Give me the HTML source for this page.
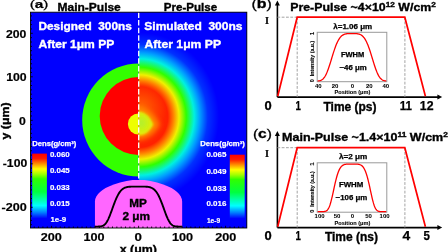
<!DOCTYPE html>
<html><head><meta charset="utf-8"><style>
html,body{margin:0;padding:0;background:#fff;width:448px;height:252px;overflow:hidden}
svg{display:block}
</style></head><body><svg width="448" height="252" viewBox="0 0 448 252" font-family="Liberation Sans, Arial, sans-serif" font-weight="bold"><rect x="30.5" y="12.2" width="216.3" height="215.8" fill="#0000ff"/><defs><clipPath id="cl"><rect x="30.5" y="12.2" width="108.19999999999999" height="215.8"/></clipPath><clipPath id="cr"><rect x="138.7" y="12.2" width="108.10000000000002" height="215.8"/></clipPath><radialGradient id="rg" gradientUnits="userSpaceOnUse" cx="139" cy="117" r="80" gradientTransform="translate(0,117) scale(1,1.056) translate(0,-117)"><stop offset="0" stop-color="#ff4000"/><stop offset="0.15" stop-color="#ff3000"/><stop offset="0.36" stop-color="#ff2000"/><stop offset="0.43" stop-color="#ff8000"/><stop offset="0.50" stop-color="#f0f000"/><stop offset="0.59" stop-color="#30ff00"/><stop offset="0.69" stop-color="#00f0e0"/><stop offset="0.76" stop-color="#00a0ff"/><stop offset="0.86" stop-color="#0030ff"/><stop offset="1" stop-color="#0000ff"/></radialGradient><radialGradient id="blob" gradientUnits="userSpaceOnUse" cx="141" cy="123" r="14"><stop offset="0" stop-color="#b0f030"/><stop offset="0.55" stop-color="#d0f010"/><stop offset="1" stop-color="#f4e800"/></radialGradient><radialGradient id="glow" gradientUnits="userSpaceOnUse" cx="141" cy="108" r="26"><stop offset="0" stop-color="#ff7000" stop-opacity="0.9"/><stop offset="1" stop-color="#ff5000" stop-opacity="0"/></radialGradient><filter id="bl1" x="-50%" y="-50%" width="200%" height="200%"><feGaussianBlur stdDeviation="0.8"/></filter><filter id="bl2" x="-50%" y="-50%" width="200%" height="200%"><feGaussianBlur stdDeviation="2.5"/></filter><linearGradient id="cb" x1="0" y1="0" x2="0" y2="1"><stop offset="0" stop-color="#ff0000"/><stop offset="0.07" stop-color="#ff1800"/><stop offset="0.14" stop-color="#ff8000"/><stop offset="0.225" stop-color="#ffff00"/><stop offset="0.30" stop-color="#a0ff00"/><stop offset="0.37" stop-color="#30ff00"/><stop offset="0.56" stop-color="#00ff40"/><stop offset="0.76" stop-color="#00ffff"/><stop offset="0.86" stop-color="#0080ff"/><stop offset="0.95" stop-color="#0000ff"/><stop offset="1" stop-color="#0000ff"/></linearGradient></defs><g clip-path="url(#cl)"><circle cx="138.7" cy="120" r="56.5" fill="#33ff00"/><circle cx="138.7" cy="116" r="39" fill="#ff0000"/><circle cx="138.4" cy="124" r="10.5" fill="#eeff00"/></g><g clip-path="url(#cr)"><rect x="138.7" y="12.2" width="108.10000000000002" height="215.8" fill="url(#rg)"/><circle cx="141" cy="108" r="26" fill="url(#glow)"/><path d="M136,107 C148,107 155,115 160,124.5 C155,134 148,140 136,140 Z" fill="#ff9000" opacity="0.85" filter="url(#bl2)"/><path d="M138,111.5 C146,111.5 150,117 153.5,124.5 C150,131 146,135.5 138,135.5 Z" fill="url(#blob)" filter="url(#bl1)"/></g><path d="M94.95,228.0 L94.95,201.50 L95.25,199.00 L96.35,196.60 L98.05,194.00 L100.05,191.90 L102.55,189.90 L105.55,188.00 L110.05,185.90 L114.55,184.20 L120.05,182.60 L126.55,181.00 L132.55,180.10 L138.55,179.90 L144.55,180.10 L150.55,181.00 L157.05,182.60 L162.55,184.20 L167.05,185.90 L171.55,188.00 L174.55,189.90 L177.05,191.90 L179.05,194.00 L180.75,196.60 L181.85,199.00 L182.15,201.50 L182.15,228.0 Z" fill="#ff66ff"/><path d="M94.90,226.60 L95.40,226.60 L95.90,226.60 L96.40,226.59 L96.90,226.59 L97.40,226.59 L97.90,226.58 L98.40,226.56 L98.90,226.54 L99.40,226.52 L99.90,226.48 L100.40,226.42 L100.90,226.35 L101.40,226.25 L101.90,226.11 L102.40,225.95 L102.90,225.74 L103.40,225.47 L103.90,225.16 L104.40,224.77 L104.90,224.32 L105.40,223.78 L105.90,223.17 L106.40,222.48 L106.90,221.69 L107.40,220.83 L107.90,219.87 L108.40,218.84 L108.90,217.73 L109.40,216.56 L109.90,215.32 L110.40,214.03 L110.90,212.70 L111.40,211.33 L111.90,209.95 L112.40,208.55 L112.90,207.16 L113.40,205.77 L113.90,204.41 L114.40,203.07 L114.90,201.78 L115.40,200.52 L115.90,199.32 L116.40,198.17 L116.90,197.08 L117.40,196.06 L117.90,195.09 L118.40,194.20 L118.90,193.36 L119.40,192.59 L119.90,191.89 L120.40,191.24 L120.90,190.65 L121.40,190.12 L121.90,189.65 L122.40,189.22 L122.90,188.84 L123.40,188.50 L123.90,188.21 L124.40,187.95 L124.90,187.72 L125.40,187.53 L125.90,187.36 L126.40,187.22 L126.90,187.10 L127.40,187.00 L127.90,186.91 L128.40,186.84 L128.90,186.79 L129.40,186.74 L129.90,186.71 L130.40,186.68 L130.90,186.65 L131.40,186.64 L131.90,186.63 L132.40,186.62 L132.90,186.61 L133.40,186.61 L133.90,186.60 L134.40,186.60 L134.90,186.60 L135.40,186.60 L135.90,186.60 L136.40,186.60 L136.90,186.60 L137.40,186.60 L137.90,186.60 L138.40,186.60 L138.90,186.60 L139.40,186.60 L139.90,186.60 L140.40,186.60 L140.90,186.60 L141.40,186.60 L141.90,186.60 L142.40,186.60 L142.90,186.61 L143.40,186.61 L143.90,186.62 L144.40,186.63 L144.90,186.64 L145.40,186.66 L145.90,186.68 L146.40,186.71 L146.90,186.75 L147.40,186.80 L147.90,186.86 L148.40,186.93 L148.90,187.01 L149.40,187.12 L149.90,187.24 L150.40,187.39 L150.90,187.56 L151.40,187.76 L151.90,188.00 L152.40,188.26 L152.90,188.57 L153.40,188.91 L153.90,189.30 L154.40,189.74 L154.90,190.22 L155.40,190.77 L155.90,191.36 L156.40,192.02 L156.90,192.74 L157.40,193.52 L157.90,194.37 L158.40,195.28 L158.90,196.26 L159.40,197.30 L159.90,198.40 L160.40,199.56 L160.90,200.77 L161.40,202.03 L161.90,203.34 L162.40,204.68 L162.90,206.05 L163.40,207.43 L163.90,208.83 L164.40,210.22 L164.90,211.61 L165.40,212.97 L165.90,214.29 L166.40,215.57 L166.90,216.80 L167.40,217.96 L167.90,219.06 L168.40,220.07 L168.90,221.01 L169.40,221.86 L169.90,222.62 L170.40,223.30 L170.90,223.90 L171.40,224.41 L171.90,224.85 L172.40,225.22 L172.90,225.53 L173.40,225.78 L173.90,225.98 L174.40,226.14 L174.90,226.27 L175.40,226.36 L175.90,226.43 L176.40,226.48 L176.90,226.52 L177.40,226.55 L177.90,226.57 L178.40,226.58 L178.90,226.59 L179.40,226.59 L179.90,226.60 L180.40,226.60 L180.90,226.60 L181.40,226.60 L181.90,226.60" fill="none" stroke="#000" stroke-width="1.9"/><line x1="138.7" y1="12.4" x2="138.7" y2="179" stroke="#fff" stroke-width="1.3" stroke-dasharray="5.5,2.15"/><rect x="32.2" y="153.6" width="14.7" height="68.4" fill="url(#cb)"/><rect x="229.8" y="154.7" width="14.9" height="67.3" fill="url(#cb)"/><rect x="30.5" y="12.2" width="216.3" height="215.8" fill="none" stroke="#000" stroke-width="0.9"/><path d="M30.5,15.90h1.5M34.20,228.0v-1.5M30.5,20.25h1.5M38.55,228.0v-1.5M30.5,24.60h1.5M42.90,228.0v-1.5M30.5,28.95h1.5M47.25,228.0v-1.5M30.5,33.30h2.2M51.60,228.0v-2.2M30.5,37.65h1.5M55.95,228.0v-1.5M30.5,42.00h1.5M60.30,228.0v-1.5M30.5,46.35h1.5M64.65,228.0v-1.5M30.5,50.70h1.5M69.00,228.0v-1.5M30.5,55.05h1.5M73.35,228.0v-1.5M30.5,59.40h1.5M77.70,228.0v-1.5M30.5,63.75h1.5M82.05,228.0v-1.5M30.5,68.10h1.5M86.40,228.0v-1.5M30.5,72.45h1.5M90.75,228.0v-1.5M30.5,76.80h2.2M95.10,228.0v-2.2M30.5,81.15h1.5M99.45,228.0v-1.5M30.5,85.50h1.5M103.80,228.0v-1.5M30.5,89.85h1.5M108.15,228.0v-1.5M30.5,94.20h1.5M112.50,228.0v-1.5M30.5,98.55h1.5M116.85,228.0v-1.5M30.5,102.90h1.5M121.20,228.0v-1.5M30.5,107.25h1.5M125.55,228.0v-1.5M30.5,111.60h1.5M129.90,228.0v-1.5M30.5,115.95h1.5M134.25,228.0v-1.5M30.5,120.30h2.2M138.60,228.0v-2.2M30.5,124.65h1.5M142.95,228.0v-1.5M30.5,129.00h1.5M147.30,228.0v-1.5M30.5,133.35h1.5M151.65,228.0v-1.5M30.5,137.70h1.5M156.00,228.0v-1.5M30.5,142.05h1.5M160.35,228.0v-1.5M30.5,146.40h1.5M164.70,228.0v-1.5M30.5,150.75h1.5M169.05,228.0v-1.5M30.5,155.10h1.5M173.40,228.0v-1.5M30.5,159.45h1.5M177.75,228.0v-1.5M30.5,163.80h2.2M182.10,228.0v-2.2M30.5,168.15h1.5M186.45,228.0v-1.5M30.5,172.50h1.5M190.80,228.0v-1.5M30.5,176.85h1.5M195.15,228.0v-1.5M30.5,181.20h1.5M199.50,228.0v-1.5M30.5,185.55h1.5M203.85,228.0v-1.5M30.5,189.90h1.5M208.20,228.0v-1.5M30.5,194.25h1.5M212.55,228.0v-1.5M30.5,198.60h1.5M216.90,228.0v-1.5M30.5,202.95h1.5M221.25,228.0v-1.5M30.5,207.30h2.2M225.60,228.0v-2.2M30.5,211.65h1.5M229.95,228.0v-1.5M30.5,216.00h1.5M234.30,228.0v-1.5M30.5,220.35h1.5M238.65,228.0v-1.5M30.5,224.70h1.5M243.00,228.0v-1.5" stroke="#000" stroke-width="0.9" fill="none"/><text x="38.50" y="29.6" font-size="10.5" fill="#fff" stroke="#fff" stroke-width="0.35" textLength="93.30" lengthAdjust="spacingAndGlyphs" >Designed&#160;&#160;300ns</text><text x="38.50" y="48.2" font-size="10.5" fill="#fff" stroke="#fff" stroke-width="0.35" textLength="75.80" lengthAdjust="spacingAndGlyphs" >After 1μm PP</text><text x="144.30" y="29.5" font-size="10.5" fill="#fff" stroke="#fff" stroke-width="0.35" textLength="98.20" lengthAdjust="spacingAndGlyphs" >Simulated&#160;&#160;300ns</text><text x="144.50" y="47.9" font-size="10.5" fill="#fff" stroke="#fff" stroke-width="0.35" textLength="76.60" lengthAdjust="spacingAndGlyphs" >After 1μm PP</text><text x="57.50" y="10.6" font-size="11.3" fill="#000" stroke="#000" stroke-width="0.35" textLength="63.30" lengthAdjust="spacingAndGlyphs" >Main-Pulse</text><text x="163.80" y="10.6" font-size="11.3" fill="#000" stroke="#000" stroke-width="0.35" textLength="53.40" lengthAdjust="spacingAndGlyphs" >Pre-Pulse</text><text x="29.70" y="7.8" font-size="11.5" fill="#000" stroke="#000" stroke-width="0.25" textLength="18.80" lengthAdjust="spacingAndGlyphs" ><tspan font-weight="normal">(</tspan>a<tspan font-weight="normal">)</tspan></text><text x="32.30" y="145.5" font-size="7" fill="#fff" stroke="#fff" stroke-width="0.25" textLength="44.00" lengthAdjust="spacingAndGlyphs" >Dens(g/cm³)</text><text x="49.90" y="156.60000000000002" font-size="7.2" fill="#fff" stroke="#fff" stroke-width="0.15" textLength="19.80" lengthAdjust="spacingAndGlyphs" >0.060</text><text x="49.90" y="173.0" font-size="7.2" fill="#fff" stroke="#fff" stroke-width="0.15" textLength="19.80" lengthAdjust="spacingAndGlyphs" >0.045</text><text x="49.90" y="190.20000000000002" font-size="7.2" fill="#fff" stroke="#fff" stroke-width="0.15" textLength="19.80" lengthAdjust="spacingAndGlyphs" >0.033</text><text x="49.90" y="205.70000000000002" font-size="7.2" fill="#fff" stroke="#fff" stroke-width="0.15" textLength="19.80" lengthAdjust="spacingAndGlyphs" >0.015</text><text x="50.40" y="221.5" font-size="7.2" fill="#fff" stroke="#fff" stroke-width="0.15" textLength="15.80" lengthAdjust="spacingAndGlyphs" >1e-9</text><text x="200.30" y="146" font-size="7" fill="#fff" stroke="#fff" stroke-width="0.25" textLength="44.50" lengthAdjust="spacingAndGlyphs" >Dens(g/cm³)</text><text x="206.40" y="157.3" font-size="7.2" fill="#fff" stroke="#fff" stroke-width="0.15" textLength="20.00" lengthAdjust="spacingAndGlyphs" >0.065</text><text x="206.40" y="174.20000000000002" font-size="7.2" fill="#fff" stroke="#fff" stroke-width="0.15" textLength="20.00" lengthAdjust="spacingAndGlyphs" >0.049</text><text x="206.40" y="190.9" font-size="7.2" fill="#fff" stroke="#fff" stroke-width="0.15" textLength="20.00" lengthAdjust="spacingAndGlyphs" >0.033</text><text x="206.40" y="206.20000000000002" font-size="7.2" fill="#fff" stroke="#fff" stroke-width="0.15" textLength="20.00" lengthAdjust="spacingAndGlyphs" >0.016</text><text x="206.90" y="223.0" font-size="7.2" fill="#fff" stroke="#fff" stroke-width="0.15" textLength="13.30" lengthAdjust="spacingAndGlyphs" >1e-9</text><text x="129.20" y="206.7" font-size="11" fill="#000" stroke="#000" stroke-width="0.35" textLength="17.60" lengthAdjust="spacingAndGlyphs" >MP</text><text x="122.40" y="220.1" font-size="11.2" fill="#000" stroke="#000" stroke-width="0.35" textLength="27.60" lengthAdjust="spacingAndGlyphs" >2 μm</text><text x="6.00" y="37.5" font-size="11.3" fill="#000" stroke="#000" stroke-width="0.2" textLength="20.40" lengthAdjust="spacingAndGlyphs" >200</text><text x="6.20" y="81.0" font-size="11.3" fill="#000" stroke="#000" stroke-width="0.2" textLength="20.50" lengthAdjust="spacingAndGlyphs" >100</text><text x="19.10" y="124.5" font-size="11.3" fill="#000" stroke="#000" stroke-width="0.2" textLength="6.80" lengthAdjust="spacingAndGlyphs" >0</text><text x="2.80" y="167.0" font-size="11.3" fill="#000" stroke="#000" stroke-width="0.2" textLength="24.40" lengthAdjust="spacingAndGlyphs" >-100</text><text x="1.50" y="210.6" font-size="11.3" fill="#000" stroke="#000" stroke-width="0.2" textLength="25.20" lengthAdjust="spacingAndGlyphs" >-200</text><text x="40.80" y="241.3" font-size="11.3" fill="#000" stroke="#000" stroke-width="0.2" textLength="21.10" lengthAdjust="spacingAndGlyphs" >200</text><text x="83.50" y="241.3" font-size="11.3" fill="#000" stroke="#000" stroke-width="0.2" textLength="21.10" lengthAdjust="spacingAndGlyphs" >100</text><text x="172.00" y="241.3" font-size="11.3" fill="#000" stroke="#000" stroke-width="0.2" textLength="21.10" lengthAdjust="spacingAndGlyphs" >100</text><text x="215.15" y="241.3" font-size="11.3" fill="#000" stroke="#000" stroke-width="0.2" textLength="21.10" lengthAdjust="spacingAndGlyphs" >200</text><text x="134.40" y="241.1" font-size="11.3" fill="#000" stroke="#000" stroke-width="0.2" textLength="7.40" lengthAdjust="spacingAndGlyphs" >0</text><text x="119.70" y="252.5" font-size="11.3" fill="#000" stroke="#000" stroke-width="0.35" textLength="37.20" lengthAdjust="spacingAndGlyphs" >x (μm)</text><text x="0" y="0" font-size="10.5" text-anchor="middle" stroke="#000" stroke-width="0.35" transform="translate(8.6,121) rotate(-90)" textLength="37" lengthAdjust="spacingAndGlyphs">y (μm)</text><line x1="277.4" y1="97.1" x2="277.4" y2="4" stroke="#000" stroke-width="1.6"/><path d="M274.9,5.4 L277.4,0.6 L279.9,5.4 Z" fill="#000"/><line x1="277.4" y1="97.1" x2="438" y2="97.1" stroke="#000" stroke-width="1.6"/><path d="M437.4,94.6 L442.2,97.1 L437.4,99.6 Z" fill="#000"/><line x1="277.4" y1="17.2" x2="297" y2="17.2" stroke="#999" stroke-width="0.9" stroke-dasharray="2.8,1.5"/><line x1="297.2" y1="17.2" x2="297.2" y2="97.1" stroke="#999" stroke-width="0.9" stroke-dasharray="2.8,1.5"/><line x1="404.9" y1="17.2" x2="404.9" y2="97.1" stroke="#999" stroke-width="0.9" stroke-dasharray="2.8,1.5"/><rect x="317.2" y="32.3" width="69.60000000000002" height="49.400000000000006" fill="#fff" stroke="#999" stroke-width="1"/><path d="M277.7,96.3 L297.2,17.2 L404.8,17.2 L425.4,96.3" fill="none" stroke="#ff0000" stroke-width="1.7" stroke-linejoin="miter"/><path d="M317.70,80.98 L318.20,80.93 L318.70,80.87 L319.20,80.78 L319.70,80.67 L320.20,80.53 L320.70,80.35 L321.20,80.13 L321.70,79.86 L322.20,79.53 L322.70,79.14 L323.20,78.67 L323.70,78.13 L324.20,77.51 L324.70,76.80 L325.20,75.99 L325.70,75.10 L326.20,74.11 L326.70,73.02 L327.20,71.84 L327.70,70.58 L328.20,69.24 L328.70,67.82 L329.20,66.33 L329.70,64.79 L330.20,63.21 L330.70,61.59 L331.20,59.95 L331.70,58.31 L332.20,56.66 L332.70,55.03 L333.20,53.42 L333.70,51.85 L334.20,50.33 L334.70,48.85 L335.20,47.44 L335.70,46.09 L336.20,44.82 L336.70,43.62 L337.20,42.50 L337.70,41.46 L338.20,40.49 L338.70,39.61 L339.20,38.80 L339.70,38.08 L340.20,37.42 L340.70,36.83 L341.20,36.31 L341.70,35.86 L342.20,35.46 L342.70,35.11 L343.20,34.82 L343.70,34.56 L344.20,34.35 L344.70,34.18 L345.20,34.04 L345.70,33.92 L346.20,33.83 L346.70,33.76 L347.20,33.71 L347.70,33.67 L348.20,33.64 L348.70,33.62 L349.20,33.61 L349.70,33.61 L350.20,33.60 L350.70,33.60 L351.20,33.60 L351.70,33.60 L352.20,33.60 L352.70,33.60 L353.20,33.60 L353.70,33.60 L354.20,33.60 L354.70,33.61 L355.20,33.62 L355.70,33.64 L356.20,33.66 L356.70,33.70 L357.20,33.75 L357.70,33.82 L358.20,33.90 L358.70,34.01 L359.20,34.15 L359.70,34.32 L360.20,34.52 L360.70,34.76 L361.20,35.05 L361.70,35.38 L362.20,35.77 L362.70,36.22 L363.20,36.72 L363.70,37.30 L364.20,37.94 L364.70,38.65 L365.20,39.44 L365.70,40.31 L366.20,41.26 L366.70,42.28 L367.20,43.39 L367.70,44.57 L368.20,45.83 L368.70,47.16 L369.20,48.56 L369.70,50.03 L370.20,51.54 L370.70,53.10 L371.20,54.70 L371.70,56.33 L372.20,57.98 L372.70,59.62 L373.20,61.27 L373.70,62.89 L374.20,64.48 L374.70,66.03 L375.20,67.53 L375.70,68.96 L376.20,70.32 L376.70,71.60 L377.20,72.79 L377.70,73.90 L378.20,74.91 L378.70,75.82 L379.20,76.64 L379.70,77.37 L380.20,78.02 L380.70,78.57 L381.20,79.05 L381.70,79.46 L382.20,79.80 L382.70,80.08 L383.20,80.31 L383.70,80.50 L384.20,80.64 L384.70,80.76 L385.20,80.85 L385.70,80.92 L386.20,80.97" fill="none" stroke="#ff0000" stroke-width="1.3"/><text x="265.10" y="23.8" font-size="10.5" fill="#000" stroke="#000" stroke-width="0.2" textLength="4.00" lengthAdjust="spacingAndGlyphs" font-family="Liberation Serif, serif">I</text><text x="333.30" y="28.7" font-size="7" fill="#000" stroke="#000" stroke-width="0.25" textLength="38.90" lengthAdjust="spacingAndGlyphs" >λ=1.06 μm</text><text x="340.90" y="56.8" font-size="7" fill="#000" stroke="#000" stroke-width="0.25" textLength="23.40" lengthAdjust="spacingAndGlyphs" >FWHM</text><text x="339.50" y="69.8" font-size="7" fill="#000" stroke="#000" stroke-width="0.25" textLength="27.10" lengthAdjust="spacingAndGlyphs" >~46 μm</text><text x="0" y="0" font-size="5.5" text-anchor="middle" stroke="#000" stroke-width="0.1" transform="translate(313.9,33.4) rotate(-90)">1</text><text x="0" y="0" font-size="5.5" text-anchor="middle" stroke="#000" stroke-width="0.1" transform="translate(313.9,80.7) rotate(-90)">0</text><text x="0" y="0" font-size="5.2" text-anchor="middle" stroke="#000" stroke-width="0.1" transform="translate(313.7,58.5) rotate(-90)" textLength="35.5" lengthAdjust="spacingAndGlyphs">Intensity (a.u.)</text><text x="318.3" y="87.6" font-size="6" text-anchor="middle" fill="#000" stroke="#000" stroke-width="0.05" >40</text><text x="335" y="87.6" font-size="6" text-anchor="middle" fill="#000" stroke="#000" stroke-width="0.05" >20</text><text x="352.4" y="87.6" font-size="6" text-anchor="middle" fill="#000" stroke="#000" stroke-width="0.05" >0</text><text x="369.3" y="87.6" font-size="6" text-anchor="middle" fill="#000" stroke="#000" stroke-width="0.05" >20</text><text x="385.8" y="87.6" font-size="6" text-anchor="middle" fill="#000" stroke="#000" stroke-width="0.05" >40</text><text x="334.50" y="94.3" font-size="6" fill="#000" stroke="#000" stroke-width="0.1" textLength="35.80" lengthAdjust="spacingAndGlyphs" >Position (μm)</text><text x="264.50" y="110" font-size="12" fill="#000" stroke="#000" stroke-width="0.25" textLength="7.20" lengthAdjust="spacingAndGlyphs" >0</text><text x="295.40" y="110" font-size="12" fill="#000" stroke="#000" stroke-width="0.25" textLength="5.40" lengthAdjust="spacingAndGlyphs" >1</text><text x="399.70" y="110" font-size="12" fill="#000" stroke="#000" stroke-width="0.25" textLength="12.20" lengthAdjust="spacingAndGlyphs" >11</text><text x="419.80" y="110" font-size="12" fill="#000" stroke="#000" stroke-width="0.25" textLength="13.70" lengthAdjust="spacingAndGlyphs" >12</text><text x="323.50" y="111.0" font-size="12" fill="#000" stroke="#000" stroke-width="0.35" textLength="53.00" lengthAdjust="spacingAndGlyphs" >Time (ps)</text><text x="290.20" y="10.6" font-size="11.2" fill="#000" stroke="#000" stroke-width="0.35" textLength="145.70" lengthAdjust="spacingAndGlyphs" >Pre-Pulse ~4×10<tspan font-size="7.5" dy="-3.5">12</tspan><tspan dy="3.5"> W/cm</tspan><tspan font-size="7.5" dy="-3.5">2</tspan></text><text x="251.50" y="8.2" font-size="12.5" fill="#000" stroke="#000" stroke-width="0.3" textLength="20.40" lengthAdjust="spacingAndGlyphs" ><tspan font-weight="normal">(</tspan>b<tspan font-weight="normal">)</tspan></text><line x1="277.4" y1="227.6" x2="277.4" y2="134.5" stroke="#000" stroke-width="1.6"/><path d="M274.9,135.9 L277.4,131.1 L279.9,135.9 Z" fill="#000"/><line x1="277.4" y1="227.6" x2="438" y2="227.6" stroke="#000" stroke-width="1.6"/><path d="M437.4,225.1 L442.2,227.6 L437.4,230.1 Z" fill="#000"/><line x1="277.4" y1="147.7" x2="297" y2="147.7" stroke="#999" stroke-width="0.9" stroke-dasharray="2.8,1.5"/><line x1="297.2" y1="147.7" x2="297.2" y2="227.6" stroke="#999" stroke-width="0.9" stroke-dasharray="2.8,1.5"/><line x1="404.9" y1="147.7" x2="404.9" y2="227.6" stroke="#999" stroke-width="0.9" stroke-dasharray="2.8,1.5"/><rect x="317.2" y="162.8" width="69.60000000000002" height="49.39999999999998" fill="#fff" stroke="#999" stroke-width="1"/><path d="M277.7,226.79999999999998 L297.2,147.7 L404.8,147.7 L425.4,226.79999999999998" fill="none" stroke="#ff0000" stroke-width="1.7" stroke-linejoin="miter"/><path d="M317.70,211.60 L318.20,211.60 L318.70,211.60 L319.20,211.60 L319.70,211.60 L320.20,211.60 L320.70,211.60 L321.20,211.60 L321.70,211.60 L322.20,211.59 L322.70,211.59 L323.20,211.57 L323.70,211.55 L324.20,211.51 L324.70,211.45 L325.20,211.35 L325.70,211.19 L326.20,210.97 L326.70,210.66 L327.20,210.23 L327.70,209.67 L328.20,208.95 L328.70,208.06 L329.20,206.98 L329.70,205.70 L330.20,204.22 L330.70,202.55 L331.20,200.70 L331.70,198.70 L332.20,196.57 L332.70,194.35 L333.20,192.06 L333.70,189.74 L334.20,187.43 L334.70,185.16 L335.20,182.97 L335.70,180.86 L336.20,178.87 L336.70,177.01 L337.20,175.29 L337.70,173.71 L338.20,172.29 L338.70,171.02 L339.20,169.89 L339.70,168.90 L340.20,168.04 L340.70,167.30 L341.20,166.67 L341.70,166.14 L342.20,165.70 L342.70,165.33 L343.20,165.04 L343.70,164.80 L344.20,164.62 L344.70,164.47 L345.20,164.36 L345.70,164.28 L346.20,164.22 L346.70,164.18 L347.20,164.15 L347.70,164.13 L348.20,164.11 L348.70,164.11 L349.20,164.10 L349.70,164.10 L350.20,164.10 L350.70,164.10 L351.20,164.10 L351.70,164.10 L352.20,164.10 L352.70,164.10 L353.20,164.10 L353.70,164.10 L354.20,164.10 L354.70,164.10 L355.20,164.11 L355.70,164.11 L356.20,164.12 L356.70,164.14 L357.20,164.17 L357.70,164.21 L358.20,164.26 L358.70,164.34 L359.20,164.45 L359.70,164.58 L360.20,164.76 L360.70,164.99 L361.20,165.27 L361.70,165.62 L362.20,166.04 L362.70,166.55 L363.20,167.16 L363.70,167.88 L364.20,168.72 L364.70,169.68 L365.20,170.78 L365.70,172.02 L366.20,173.42 L366.70,174.96 L367.20,176.65 L367.70,178.48 L368.20,180.45 L368.70,182.54 L369.20,184.72 L369.70,186.98 L370.20,189.28 L370.70,191.60 L371.20,193.89 L371.70,196.13 L372.20,198.29 L372.70,200.32 L373.20,202.19 L373.70,203.90 L374.20,205.42 L374.70,206.74 L375.20,207.86 L375.70,208.79 L376.20,209.54 L376.70,210.13 L377.20,210.58 L377.70,210.92 L378.20,211.15 L378.70,211.32 L379.20,211.43 L379.70,211.50 L380.20,211.54 L380.70,211.57 L381.20,211.58 L381.70,211.59 L382.20,211.60 L382.70,211.60 L383.20,211.60 L383.70,211.60 L384.20,211.60 L384.70,211.60 L385.20,211.60 L385.70,211.60 L386.20,211.60" fill="none" stroke="#ff0000" stroke-width="1.3"/><text x="265.10" y="157.3" font-size="10.5" fill="#000" stroke="#000" stroke-width="0.2" textLength="4.00" lengthAdjust="spacingAndGlyphs" font-family="Liberation Serif, serif">I</text><text x="338.90" y="159.2" font-size="7" fill="#000" stroke="#000" stroke-width="0.25" textLength="28.30" lengthAdjust="spacingAndGlyphs" >λ=2 μm</text><text x="338.90" y="187.3" font-size="7" fill="#000" stroke="#000" stroke-width="0.25" textLength="24.40" lengthAdjust="spacingAndGlyphs" >FWHM</text><text x="335.60" y="200.3" font-size="7" fill="#000" stroke="#000" stroke-width="0.25" textLength="31.60" lengthAdjust="spacingAndGlyphs" >~106 μm</text><text x="0" y="0" font-size="5.5" text-anchor="middle" stroke="#000" stroke-width="0.1" transform="translate(313.9,163.9) rotate(-90)">1</text><text x="0" y="0" font-size="5.5" text-anchor="middle" stroke="#000" stroke-width="0.1" transform="translate(313.9,211.2) rotate(-90)">0</text><text x="0" y="0" font-size="5.2" text-anchor="middle" stroke="#000" stroke-width="0.1" transform="translate(313.7,189.0) rotate(-90)" textLength="35.5" lengthAdjust="spacingAndGlyphs">Intensity (a.u.)</text><text x="319.6" y="218.1" font-size="6" text-anchor="middle" fill="#000" stroke="#000" stroke-width="0.05" >100</text><text x="337" y="218.1" font-size="6" text-anchor="middle" fill="#000" stroke="#000" stroke-width="0.05" >50</text><text x="352.4" y="218.1" font-size="6" text-anchor="middle" fill="#000" stroke="#000" stroke-width="0.05" >0</text><text x="368.5" y="218.1" font-size="6" text-anchor="middle" fill="#000" stroke="#000" stroke-width="0.05" >50</text><text x="384.6" y="218.1" font-size="6" text-anchor="middle" fill="#000" stroke="#000" stroke-width="0.05" >100</text><text x="334.50" y="224.8" font-size="6" fill="#000" stroke="#000" stroke-width="0.1" textLength="35.80" lengthAdjust="spacingAndGlyphs" >Position (μm)</text><text x="264.50" y="240.4" font-size="12" fill="#000" stroke="#000" stroke-width="0.25" textLength="7.20" lengthAdjust="spacingAndGlyphs" >0</text><text x="295.40" y="240.4" font-size="12" fill="#000" stroke="#000" stroke-width="0.25" textLength="5.40" lengthAdjust="spacingAndGlyphs" >1</text><text x="402.40" y="240.4" font-size="12" fill="#000" stroke="#000" stroke-width="0.25" textLength="7.70" lengthAdjust="spacingAndGlyphs" >4</text><text x="423.40" y="240.4" font-size="12" fill="#000" stroke="#000" stroke-width="0.25" textLength="6.40" lengthAdjust="spacingAndGlyphs" >5</text><text x="324.90" y="240.9" font-size="12" fill="#000" stroke="#000" stroke-width="0.35" textLength="53.00" lengthAdjust="spacingAndGlyphs" >Time (ns)</text><text x="282.10" y="141.1" font-size="11.2" fill="#000" stroke="#000" stroke-width="0.35" textLength="165.80" lengthAdjust="spacingAndGlyphs" >Main-Pulse ~1.4×10<tspan font-size="7.5" dy="-3.8">11</tspan><tspan dy="3.8"> W/cm</tspan><tspan font-size="7.5" dy="-3.8">2</tspan></text><text x="252.90" y="138.4" font-size="12.5" fill="#000" stroke="#000" stroke-width="0.3" textLength="19.00" lengthAdjust="spacingAndGlyphs" ><tspan font-weight="normal">(</tspan>c<tspan font-weight="normal">)</tspan></text></svg></body></html>
